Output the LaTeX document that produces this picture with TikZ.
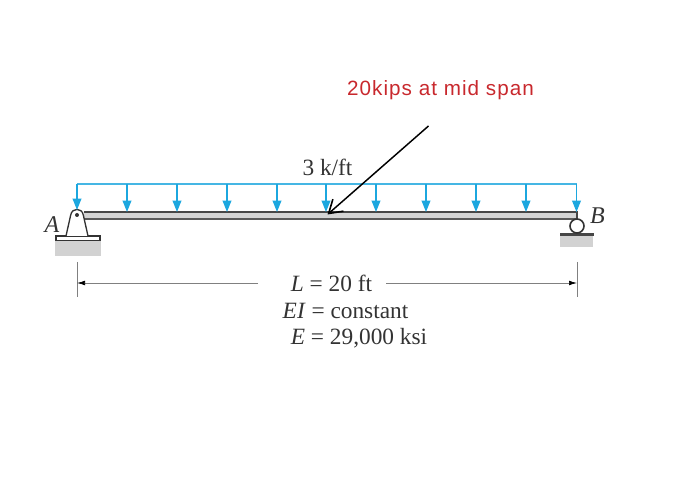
\documentclass[tikz,border=0pt]{standalone}
\usepackage{fontspec}
\setmainfont{Liberation Serif}
\newfontfamily\redfont[LetterSpace=5]{Liberation Sans}
\usetikzlibrary{arrows.meta}
\definecolor{loadblue}{HTML}{1CA7DF}
\definecolor{loadline}{HTML}{45B6E4}
\definecolor{inkgray}{HTML}{333333}
\definecolor{blockgray}{HTML}{D2D2D2}
\definecolor{beamgray}{HTML}{D4D4D4}
\tikzset{
  px/.style={x=0.75pt,y=-0.75pt},
  loadrule/.style={draw=loadline,line width=0.9pt},
  loadarrow/.style={draw=loadblue,line width=1.1pt,-{Triangle[length=8.5pt,width=6.5pt]}},
  dimline/.style={draw=gray,line width=0.7pt},
  dimarrow/.style={draw=gray,line width=0.55pt,-{Latex[length=6pt,width=3.5pt,black]}},
  serif/.style={font=\fontsize{17.5}{20}\selectfont,text=inkgray,inner sep=0pt},
  mark label/.style={font=\itshape\fontsize{18}{20}\selectfont,text=inkgray,inner sep=0pt},
  outline/.style={draw=inkgray,line width=1pt},
  block/.style={fill=blockgray,draw=none},
}
\begin{document}
\begin{tikzpicture}[px]
\useasboundingbox (0,0) rectangle (700,498);
% beam
\fill[beamgray] (84,212) rectangle (577,219.5);
\draw[draw=gray!55!black,line width=1.5pt] (84,212) -- (577,212);
\draw[draw=gray!70!black,line width=1.5pt] (84,219.5) -- (577,219.5);
\draw[draw=gray!55!black,line width=1.2pt] (577,211.5) -- (577,220);
% left support
\fill[block] (55,241) rectangle (101,256.5);
\draw[outline,fill=white] (56,236) rectangle (100,240.5);
\draw[outline,fill=white] (66,236) -- (70.7,215) .. controls (72,207.5) and (82,207.5) .. (83.3,215) -- (88,236);
\fill[inkgray] (77,215) circle (2);
% right support
\fill[block] (560,235) rectangle (593,247);
\draw[draw=gray!55!black,fill=gray!55!black] (560,233) rectangle (593,235.5);
\node[circle,draw=inkgray,line width=1.2pt,fill=white,minimum size=10.5pt,inner sep=0pt] (roller) at (577,226) {};
% distributed load
\coordinate (la) at (77,184);
\coordinate (lb) at (577,184);
\draw[loadrule] (la) -- (lb);
\foreach \x/\y/\n in {77/210/0,127/212/1,177/212/2,227/212/3,277/212/4,326/212/5,376/212/6,426/212/7,476/212/8,526/212/9,576.5/212/10}{
  \coordinate (t\n) at (\x,184);
  \coordinate (h\n) at (\x,\y);
  \draw[loadarrow] (t\n) -- (h\n);
}
% point load
\coordinate (ps) at (428.5,126);
\coordinate (pe) at (327.5,214.5);
\draw[draw=black,line width=1.1pt,-{Straight Barb[length=9.5pt,width=12pt,line width=1.2pt]}] (ps) -- (pe);
% labels
\node[font=\redfont\fontsize{15.5}{18}\selectfont,text={rgb,255:red,200;green,40;blue,45},inner sep=0pt] (red) at (440.5,90.5) {20kips at mid span};
\node[serif] (w) at (327.5,167) {3 k/ft};
\node[mark label] (A) at (52,224.5) {A};
\node[mark label] (B) at (597.5,215.5) {B};
\node[serif] (L) at (331.5,283) {\textit{L} = 20 ft};
\node[serif] (EI) at (345.5,311) {\textit{EI} = constant};
\node[serif] (E) at (359,338.5) {\textit{E} = 29,000 ksi};
% dimension
\coordinate (d1t) at (77,262);
\coordinate (d1b) at (77,297);
\coordinate (d2t) at (577,262);
\coordinate (d2b) at (577,297);
\coordinate (d1) at (77,283);
\coordinate (d2) at (577,283);
\coordinate (gl) at (258,283);
\coordinate (gr) at (386,283);
\draw[dimline] (d1t) -- (d1b);
\draw[dimline] (d2t) -- (d2b);
\draw[dimarrow] (gl) -- (d1);
\draw[dimarrow] (gr) -- (d2);
\end{tikzpicture}
\end{document}
